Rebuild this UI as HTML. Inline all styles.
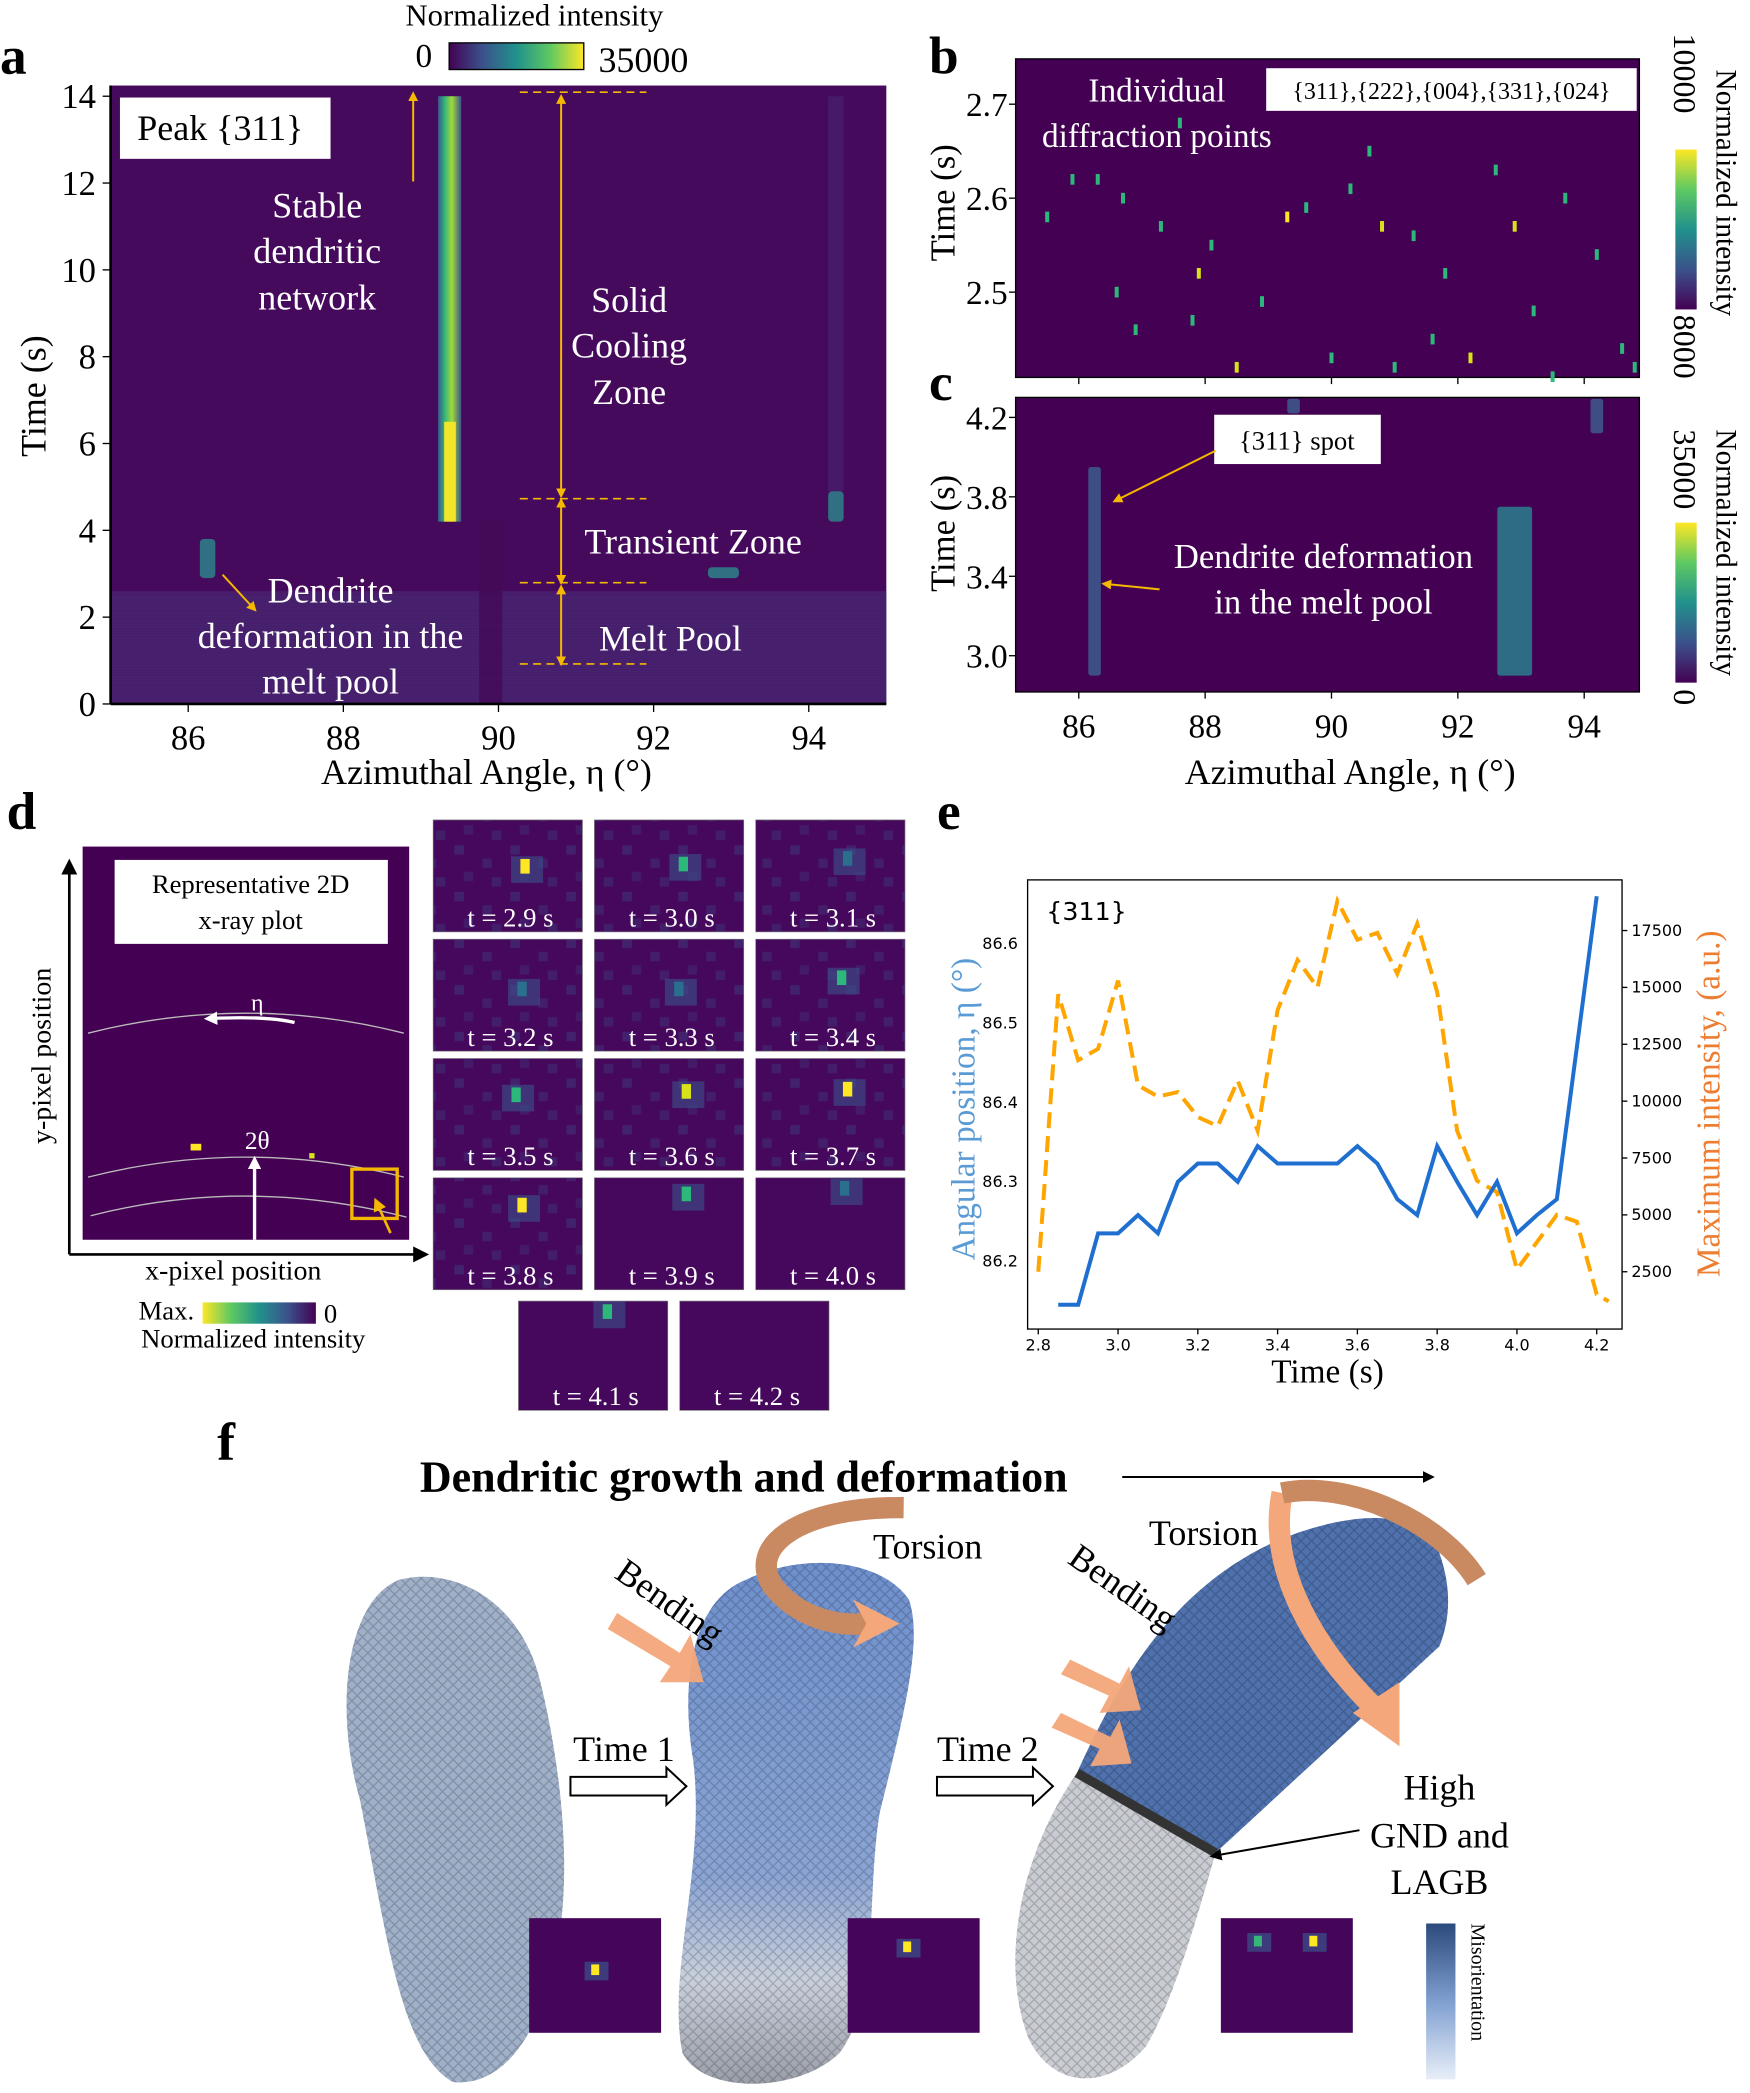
<!DOCTYPE html>
<html><head><meta charset="utf-8">
<style>
html,body{margin:0;padding:0;background:#fff;}
svg{display:block;font-family:"Liberation Serif",serif;}
</style></head>
<body>
<svg id="fig" width="1750" height="2093" viewBox="0 0 1313 1570" xmlns="http://www.w3.org/2000/svg">
<defs>
<linearGradient id="vir" x1="0" x2="1" y1="0" y2="0"><stop offset="0" stop-color="#440154"/><stop offset=".25" stop-color="#3b528b"/><stop offset=".5" stop-color="#21918c"/><stop offset=".75" stop-color="#5ec962"/><stop offset="1" stop-color="#fde725"/></linearGradient>
<linearGradient id="virv" x1="0" x2="0" y1="1" y2="0"><stop offset="0" stop-color="#440154"/><stop offset=".25" stop-color="#3b528b"/><stop offset=".5" stop-color="#21918c"/><stop offset=".75" stop-color="#5ec962"/><stop offset="1" stop-color="#fde725"/></linearGradient>
<linearGradient id="virr" x1="1" x2="0" y1="0" y2="0"><stop offset="0" stop-color="#440154"/><stop offset=".25" stop-color="#3b528b"/><stop offset=".5" stop-color="#21918c"/><stop offset=".75" stop-color="#5ec962"/><stop offset="1" stop-color="#fde725"/></linearGradient>
<linearGradient id="col" x1="0" x2="1"><stop offset="0" stop-color="#3b528b"/><stop offset=".3" stop-color="#35b779"/><stop offset=".6" stop-color="#a0da39"/><stop offset="1" stop-color="#3b528b"/></linearGradient>
<linearGradient id="mis" x1="0" x2="0" y1="0" y2="1"><stop offset="0" stop-color="#2c4a7c"/><stop offset=".5" stop-color="#7f9fd0"/><stop offset="1" stop-color="#e8eef8"/></linearGradient>
<linearGradient id="d2" x1="0" x2="0" y1="0" y2="1"><stop offset="0" stop-color="#6d8fcc"/><stop offset=".6" stop-color="#8aa4d4"/><stop offset=".8" stop-color="#c9d0dc"/><stop offset="1" stop-color="#9a9ea8"/></linearGradient>
<pattern id="tex" width="8" height="8" patternUnits="userSpaceOnUse"><rect width="8" height="8" fill="none"/><path d="M0 4 L4 0 L8 4 L4 8 Z" fill="none" stroke="#000" stroke-opacity=".18" stroke-width="1"/></pattern>
<pattern id="pix" width="42" height="35" patternUnits="userSpaceOnUse"><rect x="5" y="4" width="7" height="7" fill="#3b528b" opacity=".35"/><rect x="26" y="14" width="7" height="7" fill="#3b528b" opacity=".3"/><rect x="12" y="24" width="7" height="7" fill="#3b528b" opacity=".25"/><rect x="33" y="28" width="7" height="7" fill="#3b528b" opacity=".3"/></pattern>
<marker id="oa" viewBox="0 0 10 10" refX="5" refY="5" markerWidth="5" markerHeight="5" orient="auto-start-reverse"><path d="M0 0 L10 5 L0 10 Z" fill="#f5b800"/></marker>
<marker id="ka" viewBox="0 0 10 10" refX="5" refY="5" markerWidth="6" markerHeight="6" orient="auto"><path d="M0 0 L10 5 L0 10 Z" fill="#000"/></marker>
<marker id="wa" viewBox="0 0 10 10" refX="5" refY="5" markerWidth="4" markerHeight="4" orient="auto"><path d="M0 0 L10 5 L0 10 Z" fill="#fff"/></marker>
</defs>

<text x="0" y="55" font-size="40" font-weight="bold">a</text>
<text x="697" y="55" font-size="40" font-weight="bold">b</text>
<text x="697" y="300" font-size="40" font-weight="bold">c</text>
<text x="5" y="622" font-size="40" font-weight="bold">d</text>
<text x="703" y="622" font-size="40" font-weight="bold">e</text>
<text x="163" y="1095" font-size="40" font-weight="bold">f</text>

<g id="pa">
<text x="401" y="19" font-size="23" text-anchor="middle">Normalized intensity</text>
<text x="318" y="50" font-size="25" text-anchor="middle">0</text>
<rect x="337" y="32" width="101" height="20" fill="url(#vir)" stroke="#000"/>
<text x="449" y="54" font-size="27">35000</text>
<rect x="83" y="64" width="582" height="464" fill="#450a5c"/>
<g id="aNoise"></g>
<g id="aMarks"></g>
<rect x="90" y="73" width="158" height="46" fill="#fff"/>
<text x="103" y="105" font-size="27">Peak {311}</text>
<g fill="#fff" font-size="27" text-anchor="middle">
<text x="238" y="163">Stable</text>
<text x="238" y="197">dendritic</text>
<text x="238" y="232">network</text>
<text x="472" y="234">Solid</text>
<text x="472" y="268">Cooling</text>
<text x="472" y="303">Zone</text>
<text x="520" y="415">Transient Zone</text>
<text x="248" y="452">Dendrite</text>
<text x="248" y="486">deformation in the</text>
<text x="248" y="520">melt pool</text>
<text x="503" y="488">Melt Pool</text>
</g>
<g stroke="#f5b800" stroke-width="1.5" fill="none">
<line x1="310" y1="136" x2="310" y2="72" marker-end="url(#oa)"/>
<line x1="421" y1="74" x2="421" y2="370" marker-start="url(#oa)" marker-end="url(#oa)"/>
<line x1="421" y1="377" x2="421" y2="435" marker-start="url(#oa)" marker-end="url(#oa)"/>
<line x1="421" y1="442" x2="421" y2="496" marker-start="url(#oa)" marker-end="url(#oa)"/>
<line x1="167" y1="431" x2="190" y2="456" marker-end="url(#oa)"/>
<g stroke-dasharray="6 4" stroke-width="1.2"><line x1="390" y1="69" x2="485" y2="69"/><line x1="390" y1="374" x2="485" y2="374"/><line x1="390" y1="437" x2="485" y2="437"/><line x1="390" y1="498" x2="485" y2="498"/></g>
</g>
<g id="aAxes"></g>
<text x="365" y="588" font-size="27" text-anchor="middle">Azimuthal Angle, η (°)</text>
<text transform="translate(34,297) rotate(-90)" font-size="27" text-anchor="middle">Time (s)</text>
</g>

<g>
<rect x="762" y="44" width="468" height="239" fill="#440154" stroke="#000"/>
<g id="bMarks"></g>
<rect x="950" y="51" width="278" height="32" fill="#fff"/>
<text x="1089" y="74" font-size="18" text-anchor="middle">{311},{222},{004},{331},{024}</text>
<text x="868" y="76" font-size="25" fill="#fff" text-anchor="middle">Individual</text>
<text x="868" y="110" font-size="25" fill="#fff" text-anchor="middle">diffraction points</text>
<g id="bAxes"></g>
<text transform="translate(716,152) rotate(-90)" font-size="26" text-anchor="middle">Time (s)</text>
<rect x="1257" y="112" width="16" height="120" fill="url(#virv)"/>
<text transform="translate(1256,25) rotate(90)" font-size="24">10000</text>
<text transform="translate(1256,236) rotate(90)" font-size="24">8000</text>
<text transform="translate(1288,52) rotate(90)" font-size="22">Normalized intensity</text>
</g>

<g>
<rect x="762" y="298" width="468" height="221" fill="#440154" stroke="#000"/>
<g id="cMarks"></g>
<rect x="911" y="311" width="125" height="37" fill="#fff"/>
<text x="973" y="337" font-size="20" text-anchor="middle">{311} spot</text>
<text x="993" y="426" font-size="26" fill="#fff" text-anchor="middle">Dendrite deformation</text>
<text x="993" y="460" font-size="26" fill="#fff" text-anchor="middle">in the melt pool</text>
<g stroke="#f5b800" stroke-width="1.5"><line x1="912" y1="338" x2="838" y2="375" marker-end="url(#oa)"/><line x1="870" y1="442" x2="830" y2="438" marker-end="url(#oa)"/></g>
<g id="cAxes"></g>
<text x="1013" y="588" font-size="27" text-anchor="middle">Azimuthal Angle, η (°)</text>
<text transform="translate(716,400) rotate(-90)" font-size="26" text-anchor="middle">Time (s)</text>
<rect x="1257" y="392" width="16" height="120" fill="url(#virv)"/>
<text transform="translate(1256,322) rotate(90)" font-size="24">35000</text>
<text transform="translate(1256,517) rotate(90)" font-size="24">0</text>
<text transform="translate(1288,322) rotate(90)" font-size="22">Normalized intensity</text>
</g>

<g>
<rect x="62" y="635" width="245" height="295" fill="#440154"/>
<rect x="86" y="645" width="205" height="63" fill="#fff"/>
<text x="188" y="670" font-size="20" text-anchor="middle">Representative 2D</text>
<text x="188" y="697" font-size="20" text-anchor="middle">x-ray plot</text>
<g stroke="#bbb" fill="none" stroke-width="1"><path d="M66 775 Q185 745 303 775"/><path d="M66 883 Q185 853 303 883"/><path d="M68 912 Q185 882 305 913"/></g>
<path d="M221 767 Q200 762 158 764" stroke="#fff" stroke-width="2.5" fill="none" marker-end="url(#wa)"/>
<text x="193" y="758" font-size="18" fill="#fff" text-anchor="middle">η</text>
<line x1="191" y1="930" x2="191" y2="872" stroke="#fff" stroke-width="2.5" marker-end="url(#wa)"/>
<text x="193" y="862" font-size="19" fill="#fff" text-anchor="middle">2θ</text>
<rect x="143" y="858" width="8" height="5" fill="#fde725"/><rect x="232" y="865" width="4" height="4" fill="#d8e219"/>
<rect x="264" y="877" width="34" height="37" fill="none" stroke="#f5b800" stroke-width="2.5"/>
<line x1="293" y1="925" x2="283" y2="903" stroke="#f5b800" stroke-width="2" marker-end="url(#oa)"/>
<line x1="52" y1="941" x2="52" y2="650" stroke="#000" stroke-width="2" marker-end="url(#ka)"/>
<line x1="52" y1="941" x2="316" y2="941" stroke="#000" stroke-width="2" marker-end="url(#ka)"/>
<text transform="translate(38,792) rotate(-90)" font-size="21" text-anchor="middle">y-pixel position</text>
<text x="175" y="960" font-size="21" text-anchor="middle">x-pixel position</text>
<text x="104" y="990" font-size="20">Max.</text>
<rect x="152" y="977" width="85" height="16" fill="url(#virr)"/>
<text x="243" y="992" font-size="20">0</text>
<text x="190" y="1011" font-size="20" text-anchor="middle">Normalized intensity</text>
<g id="tiles"></g>
</g>

<g>
<rect x="771" y="660" width="446" height="337" fill="#fff" stroke="#000"/>
<text x="785" y="690" font-size="19" font-family="DejaVu Sans, sans-serif">{311}</text>
<g id="eAxes" font-family="DejaVu Sans, sans-serif" font-size="12"></g>
<path id="eOrange" fill="none" stroke="#ffa500" stroke-width="3" stroke-dasharray="12 6"/>
<path id="eBlue" fill="none" stroke="#1f6fd0" stroke-width="3"/>
<text x="996" y="1037" font-size="25" text-anchor="middle">Time (s)</text>
<text transform="translate(731,832) rotate(-90)" font-size="25" fill="#5b9bd5" text-anchor="middle">Angular position, η (°)</text>
<text transform="translate(1290,828) rotate(-90)" font-size="25" fill="#ed7d31" text-anchor="middle">Maximum intensity, (a.u.)</text>
</g>

<g>
<text x="558" y="1119" font-size="33" font-weight="bold" text-anchor="middle">Dendritic growth and deformation</text>
<line x1="842" y1="1108" x2="1072" y2="1108" stroke="#000" stroke-width="1.5" marker-end="url(#ka)"/>
<path d="M300 1185 C260 1200 250 1280 270 1350 C290 1450 300 1540 340 1562 C380 1566 410 1520 420 1450 C430 1380 415 1300 405 1260 C390 1200 340 1175 300 1185 Z" fill="#9fb0c8"/>
<path d="M300 1185 C260 1200 250 1280 270 1350 C290 1450 300 1540 340 1562 C380 1566 410 1520 420 1450 C430 1380 415 1300 405 1260 C390 1200 340 1175 300 1185 Z" fill="url(#tex)"/>
<path d="M560 1185 C520 1200 510 1260 520 1320 C530 1400 500 1480 512 1540 C528 1572 600 1570 630 1540 C660 1500 650 1420 660 1360 C680 1280 692 1230 682 1200 C660 1168 600 1165 560 1185 Z" fill="url(#d2)"/>
<path d="M560 1185 C520 1200 510 1260 520 1320 C530 1400 500 1480 512 1540 C528 1572 600 1570 630 1540 C660 1500 650 1420 660 1360 C680 1280 692 1230 682 1200 C660 1168 600 1165 560 1185 Z" fill="url(#tex)"/>
<path d="M808 1330 C840 1260 880 1190 960 1155 C1010 1135 1060 1130 1078 1160 C1090 1190 1088 1215 1080 1235 L912 1390 Z" fill="#4f71ad"/>
<path d="M808 1330 L912 1390 C895 1450 880 1500 860 1535 C830 1570 790 1566 772 1530 C752 1480 760 1400 808 1330 Z" fill="#c9ccd2"/>
<path d="M808 1330 C840 1260 880 1190 960 1155 C1010 1135 1060 1130 1078 1160 C1090 1190 1088 1215 1080 1235 L912 1390 C895 1450 880 1500 860 1535 C830 1570 790 1566 772 1530 C752 1480 760 1400 808 1330 Z" fill="url(#tex)"/>
<line x1="808" y1="1330" x2="912" y2="1390" stroke="#333" stroke-width="7"/>
<g fill="#f4a77a" opacity=".95">
<path d="M463 1210 L510 1240 L518 1226 L528 1262 L495 1262 L503 1250 L456 1222 Z"/>
<path d="M803 1245 L840 1263 L847 1250 L856 1283 L825 1285 L832 1272 L796 1256 Z"/>
<path d="M796 1285 L833 1303 L840 1290 L849 1323 L818 1325 L825 1312 L789 1296 Z"/>
</g>
<path d="M678 1131 C600 1130 560 1160 580 1190 C600 1215 630 1220 650 1218" stroke="#c98a62" stroke-width="16" fill="none"/>
<path d="M650 1218 L640 1200 L675 1218 L640 1236 Z" fill="#f4a77a"/>
<path d="M962 1120 C950 1180 990 1240 1030 1280" stroke="#f4a77a" stroke-width="16" fill="none"/>
<path d="M1015 1285 L1050 1262 L1050 1310 Z" fill="#f4a77a"/>
<path d="M962 1120 C1010 1110 1080 1140 1108 1185" stroke="#c98a62" stroke-width="16" fill="none"/>
<g font-size="27">
<text x="655" y="1169">Torsion</text>
<text x="862" y="1159">Torsion</text>
<text transform="translate(460,1183) rotate(35)">Bending</text>
<text transform="translate(800,1172) rotate(35)">Bending</text>
<text x="430" y="1321">Time 1</text>
<text x="703" y="1321">Time 2</text>
<text x="1080" y="1350" text-anchor="middle">High</text>
<text x="1080" y="1386" text-anchor="middle">GND and</text>
<text x="1080" y="1421" text-anchor="middle">LAGB</text>
</g>
<path d="M428 1333 L500 1333 L500 1326 L515 1340 L500 1354 L500 1347 L428 1347 Z" fill="#fff" stroke="#000" stroke-width="1.5"/>
<path d="M703 1333 L775 1333 L775 1326 L790 1340 L775 1354 L775 1347 L703 1347 Z" fill="#fff" stroke="#000" stroke-width="1.5"/>
<line x1="1020" y1="1373" x2="912" y2="1392" stroke="#000" stroke-width="1.5" marker-end="url(#ka)"/>
<g id="fInsets"></g>
<rect x="1070" y="1443" width="22" height="117" fill="url(#mis)"/>
<text transform="translate(1104,1443) rotate(90)" font-size="15">Misorientation</text>
</g>
</svg>

<script>
const NS="http://www.w3.org/2000/svg";
function mk(tag,attrs,parent,txt){const e=document.createElementNS(NS,tag);for(const k in attrs)e.setAttribute(k,attrs[k]);if(txt!==undefined)e.textContent=txt;parent.appendChild(e);return e;}

// ===== Panel a data =====
const aXTicks=[86,88,90,92,94];
const aYTicks=[0,2,4,6,8,10,12,14];
const aColumnEta=[89.22,89.52];
const aColumnTime=[4.2,14];
const aCoreEta=[89.3,89.45];
const aCoreTime=[4.2,6.5];
const aSpotEta=[86.15,92.7,94.25];
const aSpotEtaEnd=[86.35,93.1,94.45];
const aSpotTStart=[2.9,2.9,4.2];
const aSpotTEnd=[3.8,3.15,4.9];
const aMeltTime=[0,2.6];
const ax=e=>83+(e-85)*58.2, ay=t=>528-t*32.57;
const aN=document.getElementById('aNoise');
mk('rect',{x:ax(85),y:ay(aMeltTime[1]),width:582,height:ay(aMeltTime[0])-ay(aMeltTime[1]),fill:'#4a2d78',opacity:.55},aN);
for(let i=0;i<40;i++){const t=(i*0.063)%2.5;mk('line',{x1:83,x2:665,y1:ay(t),y2:ay(t),stroke:'#3d4a80',"stroke-opacity":0.15,"stroke-width":1},aN);}
mk('rect',{x:ax(89.75),y:ay(4.2),width:ax(90.05)-ax(89.75),height:ay(0)-ay(4.2),fill:'#440a57',opacity:.8},aN);
const aM=document.getElementById('aMarks');
let r=mk('rect',{x:ax(aColumnEta[0]),y:ay(aColumnTime[1]),width:ax(aColumnEta[1])-ax(aColumnEta[0]),height:ay(aColumnTime[0])-ay(aColumnTime[1]),fill:'url(#col)'},aM);


r=mk('rect',{x:ax(aCoreEta[0]),y:ay(aCoreTime[1]),width:ax(aCoreEta[1])-ax(aCoreEta[0]),height:ay(aCoreTime[0])-ay(aCoreTime[1]),fill:'#f2e52a'},aM);


for(let i=0;i<aSpotEta.length;i++){
 r=mk('rect',{x:ax(aSpotEta[i]),y:ay(aSpotTEnd[i]),width:ax(aSpotEtaEnd[i])-ax(aSpotEta[i]),height:ay(aSpotTStart[i])-ay(aSpotTEnd[i]),fill:'#2a8a8c',opacity:.8,rx:3},aM);
 
 
}
mk('rect',{x:ax(94.25),y:ay(14),width:ax(94.45)-ax(94.25),height:ay(4.9)-ay(14),fill:'#4b3a80',opacity:.35},aM);
const aA=document.getElementById('aAxes');
mk('line',{x1:83,x2:83,y1:64,y2:528,stroke:'#000','stroke-width':2},aA);
mk('line',{x1:83,x2:665,y1:528,y2:528,stroke:'#000','stroke-width':2},aA);
aXTicks.forEach(v=>{mk('line',{x1:ax(v),x2:ax(v),y1:528,y2:534,stroke:'#000'},aA);const t=mk('text',{x:ax(v),y:562,'font-size':26,'text-anchor':'middle'},aA,v);});
aYTicks.forEach(v=>{mk('line',{x1:77,x2:83,y1:ay(v),y2:ay(v),stroke:'#000'},aA);const t=mk('text',{x:72,y:ay(v)+9,'font-size':26,'text-anchor':'end'},aA,v);});

// ===== Panel b/c data =====
const bcXTicks=[86,88,90,92,94];
const bYTicks=[2.5,2.6,2.7];
const cYTicks=[3.0,3.4,3.8,4.2];
const bSpotEta=[86.3,86.7,87.3,87.8,88.5,89.3,89.6,90.0,90.6,91.3,91.8,92.6,93.2,93.7,94.2,94.6,90.8,88.1,86.9,85.5,92.2,91.0,93.0,87.6,89.9,86.6,88.9,90.3,92.9,94.8,87.9,91.6,85.9,93.5];
const bSpotTime=[2.62,2.60,2.57,2.47,2.42,2.58,2.59,2.43,2.65,2.56,2.52,2.63,2.48,2.60,2.54,2.44,2.57,2.55,2.46,2.58,2.43,2.42,2.73,2.68,2.72,2.50,2.49,2.61,2.57,2.42,2.52,2.45,2.62,2.41];
const bSpotLevel=[1,1,1,1,2,3,1,1,1,1,1,1,1,1,1,1,2,1,1,1,2,1,2,1,1,1,1,1,2,1,2,1,1,1];
const cStreakEta=[86.25,92.9,89.4,94.2];
const cStreakT0=[2.9,2.9,4.22,4.12];
const cStreakT1=[3.95,3.75,4.3,4.3];
const cStreakW=[0.2,0.55,0.2,0.2];
const bx=e=>762+(e-85)*47.4;
const byB=t=>78+(2.7-t)*705;
const byC=t=>313+(4.2-t)*149;
const lvl=['#2b6f8e','#2cb87a','#d8e219','#fde725'];
const bM=document.getElementById('bMarks');
for(let i=0;i<bSpotEta.length;i++){
 const y=Math.max(46,byB(bSpotTime[i]));
 r=mk('rect',{x:bx(bSpotEta[i])-1.5,y:y-4,width:3,height:8,fill:lvl[bSpotLevel[i]]},bM);
 
 
}
const cM=document.getElementById('cMarks');
for(let i=0;i<cStreakEta.length;i++){
 const y0=Math.max(299,byC(cStreakT1[i]));
 r=mk('rect',{x:bx(cStreakEta[i]-cStreakW[i]/2),y:y0,width:cStreakW[i]*47.4,height:Math.min(518,byC(cStreakT0[i]))-y0,fill:i==1?'#2a7f8e':'#3d5a8c',opacity:.85,rx:2},cM);
 
 
}
function bcAxes(id,y0,y1,ticks,yf){
 const g=document.getElementById(id);
 bcXTicks.forEach(v=>{mk('line',{x1:bx(v),x2:bx(v),y1:y1,y2:y1+5,stroke:'#000'},g);if(id==='cAxes'){const t=mk('text',{x:bx(v),y:553,'font-size':25,'text-anchor':'middle'},g,v);}});
 ticks.forEach(v=>{mk('line',{x1:757,x2:762,y1:yf(v),y2:yf(v),stroke:'#000'},g);const t=mk('text',{x:756,y:yf(v)+9,'font-size':25,'text-anchor':'end'},g,v.toFixed(1));});
}
bcAxes('bAxes',44,283,bYTicks,byB);
bcAxes('cAxes',298,519,cYTicks,byC);

// ===== Panel d tiles =====
const tileTimes=["2.9","3.0","3.1","3.2","3.3","3.4","3.5","3.6","3.7","3.8","3.9","4.0","4.1","4.2"];
const tileSpotX=[0.62,0.6,0.62,0.6,0.57,0.58,0.56,0.62,0.62,0.6,0.62,0.6,0.6,0.5];
const tileSpotY=[0.42,0.4,0.35,0.45,0.45,0.35,0.33,0.3,0.28,0.25,0.15,0.1,0.1,0.15];
const tileSpotLevel=[3,1,0,0,0,1,1,2,3,3,1,0,1,-1];
const tG=document.getElementById('tiles');
const tilePos=(i)=>i<12?[325+(i%3)*121,615+Math.floor(i/3)*89.5]:[389+(i-12)*121,976];
for(let i=0;i<tileTimes.length;i++){
 const [x,y]=tilePos(i);
 const h=i<12?84:82;
 const g=mk('g',{},tG);
 
 
 mk('rect',{x:x,y:y,width:112,height:h,fill:'#46085c',stroke:'#777','stroke-width':.5},g);
 if(i<10) mk('rect',{x:x,y:y,width:112,height:h,fill:'url(#pix)'},g);
 if(tileSpotLevel[i]>=0){
  const sx=x+tileSpotX[i]*112,sy=y+tileSpotY[i]*84;
  mk('rect',{x:sx-11,y:sy-8,width:24,height:20,fill:'#3b528b',opacity:.6},g);
  mk('rect',{x:sx-4,y:sy-6,width:7,height:11,fill:lvl[tileSpotLevel[i]]},g);
 }
 mk('text',{x:x+58,y:y+h-4,'font-size':20,fill:'#fff','text-anchor':'middle'},g,'t = '+tileTimes[i]+' s');
}

// ===== Panel e data =====
const eBlueT=[2.85,2.9,2.95,3.0,3.05,3.1,3.15,3.2,3.25,3.3,3.35,3.4,3.45,3.5,3.55,3.6,3.65,3.7,3.75,3.8,3.85,3.9,3.95,4.0,4.05,4.1,4.2];
const eBlueV=[86.145,86.145,86.235,86.235,86.258,86.235,86.3,86.323,86.323,86.3,86.345,86.323,86.323,86.323,86.323,86.345,86.323,86.278,86.258,86.345,86.3,86.258,86.3,86.235,86.258,86.278,86.66];
const eOrT=[2.8,2.85,2.9,2.95,3.0,3.05,3.1,3.15,3.2,3.25,3.3,3.35,3.4,3.45,3.5,3.55,3.6,3.65,3.7,3.75,3.8,3.85,3.9,3.95,4.0,4.05,4.1,4.15,4.2,4.23];
const eOrV=[2500,14700,11800,12300,15300,10700,10200,10400,9300,8900,10900,8700,14000,16200,15000,18800,17100,17400,15600,17800,14800,8700,6500,6000,2600,3800,5000,4700,1500,1200];
const eXTicks=[2.8,3.0,3.2,3.4,3.6,3.8,4.0,4.2];
const eLTicks=[86.2,86.3,86.4,86.5,86.6];
const eRTicks=[2500,5000,7500,10000,12500,15000,17500];
const ex=t=>779+(t-2.8)*(1198-779)/1.4;
const eyl=v=>946-(v-86.2)*595;
const eyr=v=>954-(v-2500)*256/15000;
document.getElementById('eBlue').setAttribute('d',eBlueT.map((t,i)=>(i?'L':'M')+ex(t)+' '+eyl(eBlueV[i])).join(' '));
document.getElementById('eOrange').setAttribute('d',eOrT.map((t,i)=>(i?'L':'M')+ex(t)+' '+eyr(eOrV[i])).join(' '));
const eA=document.getElementById('eAxes');
eXTicks.forEach(v=>{mk('line',{x1:ex(v),x2:ex(v),y1:997,y2:1001,stroke:'#000'},eA);const t=mk('text',{x:ex(v),y:1013,'text-anchor':'middle'},eA,v.toFixed(1));});
eLTicks.forEach(v=>{const t=mk('text',{x:737,y:eyl(v)+4},eA,v.toFixed(1));});
eRTicks.forEach(v=>{mk('line',{x1:1217,x2:1221,y1:eyr(v),y2:eyr(v),stroke:'#000'},eA);const t=mk('text',{x:1224,y:eyr(v)+4},eA,v);});

// ===== Panel f insets =====
const insetX=[397,636,916];
const insetSpots=[[0.42,0.45],[0.37,0.25],[0.2,0.2,0.62,0.2]];
const fI=document.getElementById('fInsets');
insetX.forEach((x,i)=>{
 const g=mk('g',{},fI);
 
 
 mk('rect',{x:x,y:1439,width:99,height:86,fill:'#450559'},g);
 const s=insetSpots[i];
 for(let k=0;k<s.length;k+=2){const sx=x+s[k]*99+8,sy=1439+s[k+1]*86;
  mk('rect',{x:sx-8,y:sy-6,width:18,height:14,fill:'#3b528b',opacity:.7},g);
  mk('rect',{x:sx-3,y:sy-4,width:6,height:8,fill:i==2&&k==0?'#35b779':'#fde725'},g);}
});
</script>
</body></html>
